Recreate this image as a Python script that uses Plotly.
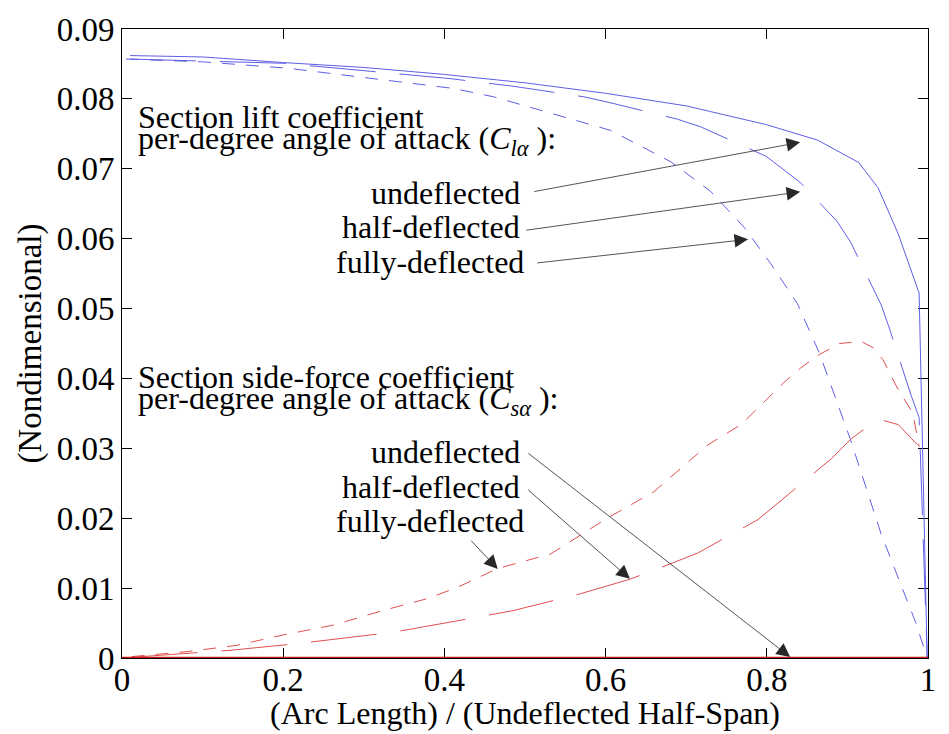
import plotly.graph_objects as go

# ---- data ----
cl_undef_x = [0.01, 0.1, 0.2, 0.3, 0.4, 0.5, 0.6, 0.7, 0.8, 0.863, 0.914, 0.938, 0.963, 0.989, 0.999]
cl_undef_y = [0.0862, 0.0860, 0.0852, 0.0845, 0.0835, 0.0823, 0.0808, 0.0790, 0.0763, 0.0741, 0.0709, 0.0673, 0.0607, 0.0522, 0.0]

cl_half_x = [0.01, 0.2, 0.407, 0.486, 0.573, 0.604, 0.689, 0.718, 0.799, 0.842, 0.887, 0.904, 0.942, 0.952, 0.979, 0.989, 0.999]
cl_half_y = [0.0857, 0.0851, 0.0829, 0.0818, 0.0803, 0.0795, 0.0771, 0.0760, 0.0718, 0.0680, 0.0625, 0.0595, 0.0505, 0.0472, 0.0376, 0.0344, 0.0]

cl_full_x = [0.005, 0.1, 0.205, 0.3, 0.411, 0.461, 0.532, 0.606, 0.681, 0.73, 0.772, 0.805, 0.838, 0.865, 0.904, 0.942, 0.985, 0.999]
cl_full_y = [0.0857, 0.0853, 0.0844, 0.0831, 0.0815, 0.0803, 0.0780, 0.0755, 0.0710, 0.0668, 0.0616, 0.0564, 0.0507, 0.0437, 0.0312, 0.0177, 0.0050, 0.0]

cs_undef_x = [0.0, 1.0]
cs_undef_y = [0.0, 0.0]

cs_half_x = [0.012, 0.134, 0.221, 0.337, 0.42, 0.486, 0.569, 0.631, 0.681, 0.714, 0.789, 0.842, 0.880, 0.904, 0.938, 0.963, 0.975, 0.987]
cs_half_y = [0.0001, 0.0011, 0.0021, 0.0037, 0.0054, 0.0068, 0.0092, 0.0113, 0.0135, 0.0150, 0.0198, 0.0248, 0.0285, 0.0313, 0.0342, 0.0334, 0.0320, 0.0305]

cs_full_x = [0.012, 0.08, 0.142, 0.2, 0.262, 0.324, 0.379, 0.416, 0.466, 0.532, 0.602, 0.66, 0.727, 0.768, 0.821, 0.842, 0.865, 0.890, 0.917, 0.932, 0.944, 0.963, 0.981, 0.989]
cs_full_y = [0.0002, 0.0009, 0.0018, 0.0033, 0.0047, 0.0068, 0.0085, 0.0101, 0.0128, 0.0149, 0.0200, 0.0238, 0.0305, 0.0334, 0.0394, 0.0415, 0.0434, 0.0450, 0.0453, 0.0444, 0.0427, 0.0384, 0.0351, 0.0302]

x_ticks = [0, 0.2, 0.4, 0.6, 0.8, 1.0]
x_tick_labels = ["0", "0.2", "0.4", "0.6", "0.8", "1"]
y_ticks = [0, 0.01, 0.02, 0.03, 0.04, 0.05, 0.06, 0.07, 0.08, 0.09]
y_tick_labels = ["0", "0.01", "0.02", "0.03", "0.04", "0.05", "0.06", "0.07", "0.08", "0.09"]

FONT = "Liberation Serif, Times New Roman, serif"
BLUE = "rgb(95,95,230)"
RED = "rgb(225,80,80)"
DARKRED = "rgb(200,25,25)"
SHORT = "13px,11px"
LONG = "66px,24px"

fig = go.Figure()
def add(x, y, color, dash, width=1.0):
    fig.add_trace(go.Scatter(x=x, y=y, mode="lines", line=dict(color=color, width=width, dash=dash),
                             showlegend=False, hoverinfo="skip"))

add(cl_undef_x, cl_undef_y, BLUE, "solid")
add(cl_half_x, cl_half_y, BLUE, LONG)
add(cl_full_x, cl_full_y, BLUE, SHORT)
add(cs_half_x, cs_half_y, RED, LONG)
add(cs_full_x, cs_full_y, RED, SHORT)
add(cs_undef_x, cs_undef_y, DARKRED, "solid", 2.4)

# pixel -> data helpers for annotation placement
X0, X1 = 122.7, 927.7
Y0, Y1 = 658.0, 22.5
def dx(px):
    return (px - X0) / (X1 - X0)
def dy(py):
    return (Y0 - py) / (Y0 - Y1) * 0.09

anns = []
def text(px, py_base, s, align="left"):
    anns.append(dict(x=dx(px), y=dy(py_base), xref="x", yref="y", text=s, showarrow=False,
                     xanchor=align, yanchor="bottom", font=dict(family=FONT, size=32, color="black"),
                     yshift=-8))

def arrow(tx, ty, hx, hy):
    anns.append(dict(x=dx(hx), y=dy(hy), ax=dx(tx), ay=dy(ty), xref="x", yref="y", axref="x", ayref="y",
                     text="", showarrow=True, arrowhead=2, arrowsize=3.4, arrowwidth=0.8,
                     arrowcolor="rgb(40,40,40)", standoff=0))

# lift group
text(137, 124, "Section lift coefficient")
text(137, 150, "per-degree angle of attack (<i>C</i><sub><i>l\u03b1</i></sub> ):")
text(522, 200, "undeflected", "right")
text(522, 235, "half-deflected", "right")
text(526, 270, "fully-deflected", "right")
arrow(533, 187, 800, 137)
arrow(525, 226, 800, 187)
arrow(536, 259, 748, 235)

# side group
text(137, 386, "Section side-force coefficient")
text(137, 412, "per-degree angle of attack (<i>C</i><sub><i>s\u03b1</i></sub> ):")
text(522, 462, "undeflected", "right")
text(522, 497, "half-deflected", "right")
text(526, 532, "fully-deflected", "right")
arrow(527, 450, 790, 657)
arrow(527, 487, 630, 578)
arrow(470, 538, 498, 568)

# axis titles
anns.append(dict(x=0.5, y=-0.1195, xref="paper", yref="paper", text="(Arc Length) / (Undeflected Half-Span)",
                 showarrow=False, xanchor="center", yanchor="bottom", font=dict(family=FONT, size=32, color="black")))
anns.append(dict(x=-0.114, y=0.5, xref="paper", yref="paper", text="(Nondimensional)", textangle=-90,
                 showarrow=False, xanchor="center", yanchor="middle", font=dict(family=FONT, size=33, color="black")))

axis_common = dict(showline=True, linecolor="black", linewidth=1, mirror="ticks", ticks="inside",
                   ticklen=10, tickwidth=1, tickcolor="black", showgrid=False, zeroline=False,
                   tickfont=dict(family=FONT, size=33, color="black"), layer="below traces")

fig.update_layout(
    width=949, height=734,
    margin=dict(l=122, r=21, t=22, b=76),
    paper_bgcolor="white", plot_bgcolor="white",
    xaxis=dict(range=[0, 1], tickvals=x_ticks, ticktext=x_tick_labels, ticklabelstandoff=-8, **axis_common),
    yaxis=dict(range=[0, 0.09], tickvals=y_ticks, ticktext=y_tick_labels, **axis_common),
    annotations=anns,
)

fig.write_html("out.html")
